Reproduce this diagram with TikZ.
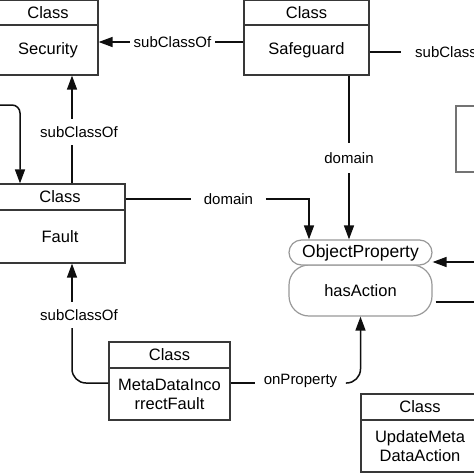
\documentclass[tikz,border=0pt]{standalone}
\usepackage{fontspec}
\setmainfont{Liberation Sans}
\usetikzlibrary{arrows.meta}
\definecolor{boxc}{gray}{0.22}
\definecolor{linec}{gray}{0.06}
\definecolor{pillc}{gray}{0.6}
\definecolor{grayc}{gray}{0.45}
\tikzset{
  box/.style={draw=boxc, line width=1.3pt, fill=white, inner sep=0pt, align=center,
    font=\fontsize{16.5}{19}\selectfont},
  pill/.style={draw=pillc, line width=1.2pt, fill=white, inner sep=0pt, minimum width=143pt,
    font=\fontsize{16.5}{19}\selectfont},
  lbl/.style={font=\fontsize{15}{18}\selectfont, inner xsep=4pt, inner ysep=0pt,
    text height=10pt, text depth=0pt, minimum height=26pt},
  ln/.style={draw=linec, line width=1.5pt},
  arr/.style={ln, -{Triangle[length=14pt,width=10pt]}}
}
\begin{document}
\begin{tikzpicture}[x=1pt,y=-1pt]
\useasboundingbox (0,0) rectangle (474,474);
\clip (0,0) rectangle (474,474);
\fill[white] (0,0) rectangle (474,474);

% class boxes
\node[box, minimum width=100pt, minimum height=25pt] (secH) at (48,12.5) {Class};
\node[box, minimum width=100pt, minimum height=50pt] (sec) at (48,50) {Security};
\node[box, minimum width=125pt, minimum height=25pt] (sgH) at (306.5,12.5) {Class};
\node[box, minimum width=125pt, minimum height=50pt] (sg) at (306.5,50) {Safeguard};
\node[box, minimum width=130pt, minimum height=26pt] (fltH) at (60,197) {Class};
\node[box, minimum width=130pt, minimum height=53pt] (flt) at (60,236.5) {Fault};
\node[box, minimum width=121pt, minimum height=26pt] (mdH) at (169.5,355) {Class};
\node[box, minimum width=121pt, minimum height=52pt] (md) at (169.5,394) {MetaDataInco\\rrectFault};
\node[box, minimum width=118pt, minimum height=26pt] (umH) at (420,407) {Class};
\node[box, minimum width=118pt, minimum height=52pt] (um) at (420,446) {UpdateMeta\\DataAction};
\node[draw=grayc, line width=1.2pt, minimum width=30pt, minimum height=66pt, inner sep=0pt] (gb) at (471,139) {};

% object property
\node[pill, minimum height=51pt, rounded corners=20pt] (ha) at (360.5,290.5) {hasAction};
\node[pill, minimum height=25pt, rounded corners=12.5pt, font=\fontsize{17.5}{19}\selectfont] (op) at (360.5,252.5) {ObjectProperty};

% Safeguard -> Security
\node[lbl] (l1) at (172.5,42) {subClassOf};
\draw[ln] (sg.west |- l1) -- (l1.east);
\draw[arr] (l1.west) -- (sec.east |- l1);

% Safeguard -> right
\node[lbl, anchor=west, inner xsep=14pt] (l2) at (401,52) {subClassOf};
\draw[ln] (sg.east |- l2) -- (l2.west);

% Safeguard -> ObjectProperty (domain)
\node[lbl, minimum height=30pt] (l3) at (349,158) {domain};
\draw[ln] (sg.south -| l3) -- (l3.north);
\draw[arr] (l3.south) -- (op.north -| l3);

% Fault -> Security
\node[lbl] (l4) at (79,132) {subClassOf};
\coordinate (v1) at (72,132);
\draw[ln] (fltH.north -| v1) -- (v1 |- l4.south);
\draw[arr] (v1 |- l4.north) -- (sec.south -| v1);

% loop into Fault
\coordinate (lp) at (-3,105);
\draw[arr, rounded corners=8pt] (lp) -| ([xshift=-40pt]fltH.north);

% Fault -> ObjectProperty (domain)
\node[lbl, inner xsep=12.5pt] (l5) at (228.5,199) {domain};
\draw[ln] (fltH.east |- l5) -- (l5.west);
\draw[arr] (l5.east) -| ([xshift=-51.5pt]op.north);

% right arrows
\draw[arr] ([xshift=46pt,yshift=-9.5pt]op.east) -- ([yshift=-9.5pt]op.east);
\draw[ln] ([xshift=3pt,yshift=-11.5pt]ha.east) -- ++(45,0);

% MetaDataIncorrectFault -> hasAction (onProperty)
\node[lbl, inner xsep=8.5pt] (l6) at (300.5,379) {onProperty};
\coordinate (hOn) at ([yshift=11pt]md.east);
\draw[ln] (hOn) -- (l6.west |- hOn);
\draw[arr, rounded corners=14pt] (l6.east |- hOn) -| (ha.south);

% MetaDataIncorrectFault -> Fault
\node[lbl] (l7) at (79,315) {subClassOf};
\coordinate (hOn2) at ([yshift=11pt]md.west);
\coordinate (v3) at (72,315);
\draw[ln, rounded corners=14pt] (hOn2) -| (v3 |- l7.south);
\draw[arr] (v3 |- l7.north) -- (flt.south -| v3);
\end{tikzpicture}
\end{document}
